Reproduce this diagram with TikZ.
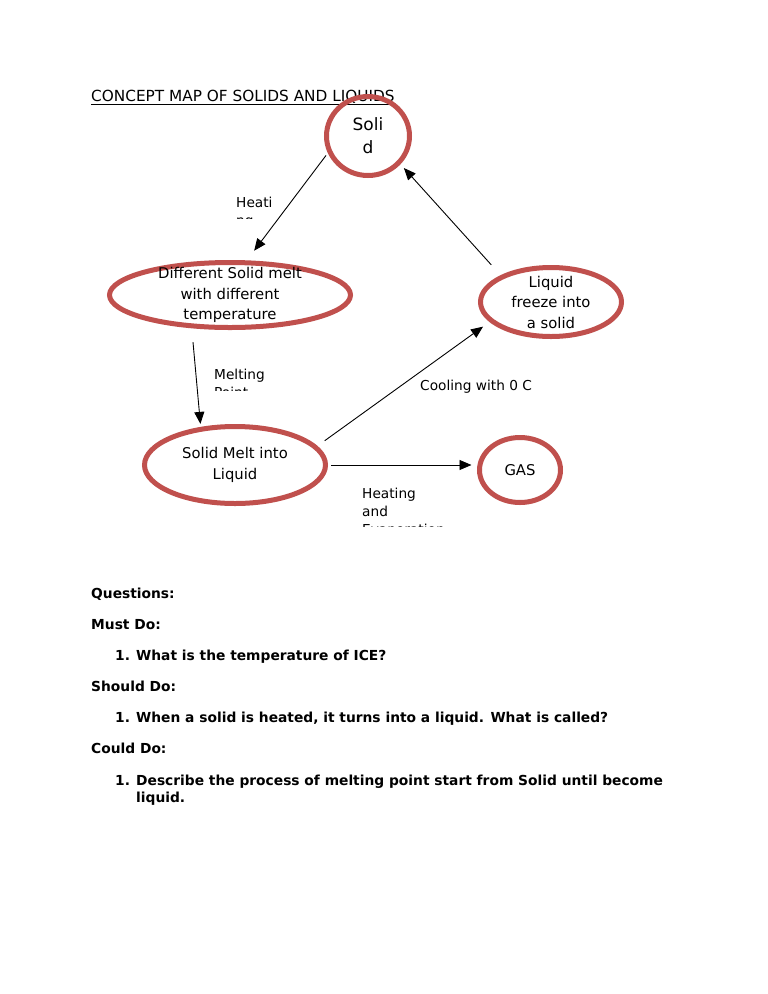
\documentclass[tikz,border=0pt]{standalone}
\usepackage{fontspec}
\setmainfont{DejaVu Sans}
\usepackage{tikz}
\usetikzlibrary{shapes}
\usetikzlibrary{arrows.meta,positioning}
\definecolor{mapred}{RGB}{192,80,77}
\tikzstyle{concept}=[shape=ellipse,draw=mapred,line width=5pt,inner sep=0pt]
\tikzstyle{maptext}=[font=\fontsize{14.8}{20.5}\selectfont,align=center,inner sep=0pt]
\tikzstyle{linklabel}=[font=\fontsize{13.7}{18}\selectfont,align=left,anchor=base west,inner sep=0pt]
\tikzstyle{qtext}=[font=\bfseries\fontsize{13.8}{17}\selectfont,anchor=base west,inner sep=0pt]
\tikzstyle{linkedge}=[-{Triangle[length=12pt,width=10pt]},line width=0.9pt]

\begin{document}
\begin{tikzpicture}[x=1pt,y=-1pt]
\useasboundingbox[fill=white] (0,0) rectangle (768,994);

\node[anchor=base west,inner sep=0pt,font=\fontsize{15.3}{18}\selectfont] (title) at (91,101) {\underline{CONCEPT MAP OF SOLIDS AND LIQUIDS}};

%concepts
\node[concept,minimum width=83,minimum height=79,
  label={[maptext,name=solidtext,font=\fontsize{17}{23}\selectfont]center:Soli\\d}] (solid) at (368,136){};
\node[concept,minimum width=241,minimum height=65,
  label={[maptext,name=difftext]center:Different Solid melt\\with different\\temperature}] (diff) at (230,295){};
\node[concept,minimum width=141,minimum height=69,
  label={[maptext,name=liquidtext]center:Liquid\\freeze into\\a solid}] (liquid) at (551,302){};
\node[concept,minimum width=181,minimum height=77,
  label={[maptext,name=melttext]center:Solid Melt into\\Liquid}] (melt) at (235,465){};
\node[concept,minimum width=81,minimum height=65,
  label={[maptext,name=gastext]center:GAS}] (gas) at (520,470){};

%link labels (cut off as in the box)
\begin{scope}
\clip (230,185) rectangle (300,218.5);
\node[linklabel] (heatlbl) at (236,225) {Heati\\ng};
\end{scope}
\begin{scope}
\clip (205,360) rectangle (300,390);
\node[linklabel] (meltlbl) at (214,397) {Melting\\Point};
\end{scope}
\begin{scope}
\clip (355,480) rectangle (460,526);
\node[linklabel] (evaplbl) at (362,534) {Heating\\and\\Evaporation};
\end{scope}
\node[linklabel] (coollbl) at (420,390) {Cooling with 0 C};

\path
(solid.203) edge [linkedge,shorten <=3pt,shorten >=12pt] (diff.64)
(diff.221) edge [linkedge,shorten <=14pt,shorten >=3pt] (melt.132)
(melt.13) edge [linkedge,shorten <=9pt,shorten >=8pt] (liquid.198)
(melt.east) edge [linkedge,shorten <=3pt,shorten >=5.5pt] (gas.west |- melt.east)
(liquid.152) edge [linkedge,shorten <=14pt,shorten >=5pt] (solid.319)
;

%questions
\node[qtext] (questions) at (91,598) {Questions:};
\node[qtext] (mustdo) at (91,629) {Must Do:};
\node[qtext] (mustnum) at (115,660) {1.};
\node[qtext] (mustq) at (136,660) {What is the temperature of ICE?};
\node[qtext] (shoulddo) at (91,691) {Should Do:};
\node[qtext] (shouldnum) at (115,722) {1.};
\node[qtext] (shouldq) at (136,722) {When a solid is heated, it turns into a liquid. What is called?};
\node[qtext] (coulddo) at (91,753) {Could Do:};
\node[qtext] (couldnum) at (115,785) {1.};
\node[qtext] (couldq) at (136,785) {Describe the process of melting point start from Solid until become};
\node[qtext] (couldq2) at (136,802) {liquid.};
\end{tikzpicture}
\end{document}
